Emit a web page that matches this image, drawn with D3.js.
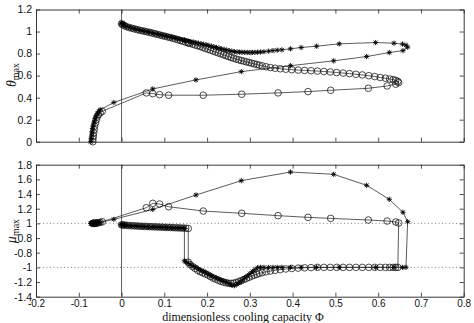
<!DOCTYPE html>
<html>
<head>
<meta charset="utf-8">
<script src="https://cdn.jsdelivr.net/npm/d3@7"></script>
<style>
  body { margin: 0; background: #fff; }
  svg { display: block; }
</style>
</head>
<body>
<svg id="chart" width="474" height="323"></svg>
<script>
// Branch traced with asterisk markers: cooling capacity, peak temperature, peak flux ratio
const starPhi = [
  -0.072,-0.071,-0.070,-0.069,-0.068,-0.066,-0.064,-0.062,-0.059,-0.056,-0.053,-0.050,
  -0.018,0.073,0.174,0.280,0.395,0.496,0.573,0.626,0.658,0.669,
  0.665,0.657,0.637,0.594,0.509,0.456,0.420,0.395,0.375,0.364,0.354,0.344,0.333,0.325,
  0.318,0.312,0.306,0.300,0.294,0.288,0.282,0.276,0.270,0.264,
  0.258,0.252,0.246,0.240,0.234,0.228,0.222,0.216,0.210,0.204,
  0.198,0.192,0.186,0.180,0.174,0.168,0.162,0.156,0.150,
  0.147,0.147,
  0.141,0.135,0.129,0.123,0.117,0.111,0.105,0.099,0.093,0.087,
  0.081,0.075,0.069,0.063,0.057,0.051,0.045,0.039,0.033,0.027,0.021,
  0.015,0.010,0.006,0.003,0.001,-0.001
];
const starTheta = [
  0.000,0.030,0.060,0.090,0.120,0.150,0.180,0.210,0.235,0.258,0.275,0.290,
  0.356,0.479,0.561,0.636,0.690,0.734,0.773,0.809,0.827,0.858,
  0.876,0.886,0.894,0.900,0.888,0.867,0.855,0.843,0.834,0.831,0.827,0.822,0.817,0.814,
  0.812,0.811,0.810,0.810,0.810,0.811,0.812,0.813,0.815,0.817,
  0.821,0.826,0.831,0.837,0.843,0.849,0.855,0.861,0.867,0.873,
  0.879,0.884,0.889,0.894,0.899,0.904,0.909,0.914,0.919,
  0.922,0.922,
  0.927,0.932,0.937,0.943,0.948,0.953,0.958,0.963,0.968,0.974,
  0.979,0.985,0.991,0.996,1.001,1.006,1.011,1.017,1.023,1.029,1.035,
  1.042,1.050,1.058,1.066,1.072,1.077
];
const starMu = [
  1.000,1.000,1.000,1.000,1.000,1.000,1.003,1.005,1.006,1.008,1.010,1.013,
  1.055,1.190,1.387,1.582,1.700,1.669,1.519,1.328,1.151,1.023,
  -1.000,-1.000,-1.000,-1.000,-1.000,-1.000,-1.000,-1.000,-1.000,-1.000,-1.000,-1.000,-1.000,-1.000,
  -1.005,-1.030,-1.055,-1.085,-1.115,-1.145,-1.175,-1.205,-1.230,-1.250,
  -1.245,-1.225,-1.205,-1.190,-1.175,-1.160,-1.145,-1.130,-1.115,-1.095,
  -1.075,-1.055,-1.040,-1.020,-1.000,-0.985,-0.965,-0.945,-0.925,
  -0.910,0.932,
  0.934,0.936,0.937,0.939,0.940,0.942,0.943,0.945,0.946,0.948,
  0.949,0.951,0.952,0.954,0.955,0.957,0.959,0.961,0.963,0.965,0.967,
  0.970,0.973,0.976,0.978,0.980,0.982
];

// Branch traced with open-circle markers
const circlePhi = [
  -0.067,-0.067,-0.066,-0.065,-0.064,-0.063,-0.061,-0.059,-0.057,-0.054,-0.050,-0.045,
  0.058,0.073,0.089,0.110,0.191,0.281,0.366,0.436,0.489,0.577,0.621,0.641,0.648,
  0.646,0.641,0.635,0.627,0.617,0.605,0.592,0.578,0.563,0.548,0.533,0.518,0.503,
  0.488,0.473,0.458,0.443,0.428,0.413,0.398,0.384,0.371,0.359,0.348,0.338,0.329,
  0.322,0.316,0.310,0.304,0.298,0.292,0.286,0.280,0.274,0.268,
  0.262,0.256,0.250,0.244,0.238,0.232,0.226,0.220,0.214,0.208,
  0.202,0.196,0.190,0.184,0.178,0.172,0.166,0.160,
  0.156,0.156,
  0.150,0.144,0.138,0.132,0.126,0.120,0.114,0.108,0.102,0.096,
  0.090,0.084,0.078,0.072,0.066,0.060,0.054,0.048,0.042,0.036,
  0.030,0.024,0.018,0.012,0.007,0.003,0.000
];
const circleTheta = [
  0.000,0.025,0.050,0.080,0.110,0.140,0.170,0.200,0.225,0.245,0.262,0.276,
  0.443,0.436,0.427,0.422,0.422,0.431,0.443,0.455,0.467,0.485,0.506,0.522,0.536,
  0.548,0.557,0.563,0.569,0.576,0.583,0.591,0.599,0.606,0.612,0.618,0.623,0.628,
  0.633,0.637,0.641,0.644,0.647,0.650,0.654,0.658,0.662,0.667,0.673,0.680,0.688,
  0.695,0.701,0.707,0.713,0.719,0.725,0.731,0.737,0.743,0.750,
  0.757,0.765,0.773,0.781,0.790,0.798,0.806,0.814,0.823,0.831,
  0.839,0.847,0.856,0.864,0.871,0.878,0.885,0.892,
  0.897,0.898,
  0.904,0.911,0.918,0.925,0.932,0.939,0.945,0.951,0.957,0.962,
  0.968,0.974,0.980,0.986,0.992,0.997,1.002,1.007,1.012,1.018,
  1.024,1.030,1.036,1.044,1.053,1.062,1.070
];
const circleMu = [
  1.000,1.000,1.000,1.000,1.000,1.000,1.002,1.004,1.006,1.009,1.014,1.022,
  1.214,1.273,1.264,1.227,1.168,1.137,1.105,1.082,1.068,1.046,1.032,1.019,1.005,
  -1.000,-1.000,-1.000,-1.000,-1.000,-1.000,-1.000,-1.000,-1.000,-1.000,-1.000,-1.000,-1.000,
  -1.000,-1.000,-1.000,-1.003,-1.006,-1.010,-1.015,-1.022,-1.030,-1.040,-1.050,-1.060,-1.072,
  -1.083,-1.095,-1.107,-1.120,-1.135,-1.150,-1.165,-1.180,-1.195,-1.207,
  -1.215,-1.218,-1.216,-1.210,-1.200,-1.190,-1.175,-1.160,-1.145,-1.125,
  -1.105,-1.090,-1.075,-1.060,-1.040,-1.015,-0.990,-0.960,
  -0.930,0.930,
  0.934,0.936,0.937,0.939,0.940,0.942,0.943,0.945,0.946,0.948,
  0.949,0.951,0.952,0.954,0.955,0.957,0.958,0.960,0.962,0.964,
  0.966,0.968,0.970,0.973,0.976,0.978,0.980
];

// Axis ticks
const phiTicks = [-0.2,-0.1,0,0.1,0.2,0.3,0.4,0.5,0.6,0.7,0.8];
const phiTickLabels = ["-0.2","-0.1","0","0.1","0.2","0.3","0.4","0.5","0.6","0.7","0.8"];
const thetaTicks = [0,0.2,0.4,0.6,0.8,1,1.2];
const thetaTickLabels = ["0","0.2","0.4","0.6","0.8","1","1.2"];
// The flux axis is folded: the gap between -0.8 and 0.8 is cut out
const muTicks = [-1.4,-1.2,-1,-0.8,0.8,1,1.2,1.4,1.6,1.8];
const muTickLabels = ["-1.4","-1.2","-1","-0.8","0.8","1","1.2","1.4","1.6","1.8"];
const muGuides = [1,-1];

const svg = d3.select("#chart");
const frameColor = "#222";
const tickFont = "'Liberation Sans', Arial, sans-serif";
const serifFont = "'Liberation Serif', 'DejaVu Serif', serif";

const x = d3.scaleLinear().domain([-0.2, 0.8]).range([36, 463.7]);
const yTop = d3.scaleLinear().domain([0, 1.2]).range([141.7, 9.5]);
// folded coordinate: positive values shift down by 1.4 so 0.8 sits one step above -0.8
const fold = m => (m > 0 ? m - 1.4 : m);
const yBotLin = d3.scaleLinear().domain([-1.4, 0.4]).range([296.7, 164.7]);
const yBot = m => yBotLin(fold(m));

const starData = starPhi.map((p, i) => ({ phi: p, theta: starTheta[i], mu: starMu[i] }));
const circleData = circlePhi.map((p, i) => ({ phi: p, theta: circleTheta[i], mu: circleMu[i] }));

function drawFrame(yScale, tickVals, labels, top, bottom, showX) {
  const g = svg.append("g");
  const style = size => sel => {
    sel.select(".domain").attr("stroke", frameColor).attr("stroke-width", 0.9).attr("fill", "none");
    sel.selectAll(".tick line").attr("stroke", frameColor).attr("stroke-width", 0.8);
    sel.selectAll("text").attr("font-family", tickFont).attr("font-size", size).attr("fill", "#111");
  };
  g.append("g").attr("transform", `translate(0,${bottom})`)
    .call(d3.axisBottom(x).tickValues(phiTicks).tickSizeInner(-4).tickSizeOuter(0).tickPadding(3.5)
      .tickFormat((d, i) => showX ? phiTickLabels[i] : ""))
    .call(style(10));
  g.append("g").attr("transform", `translate(0,${top})`)
    .call(d3.axisTop(x).tickValues(phiTicks).tickSizeInner(-4).tickSizeOuter(0).tickFormat(""))
    .call(style(10));
  g.append("g").attr("transform", `translate(${x.range()[0]},0)`)
    .call(d3.axisLeft(yScale).tickValues(tickVals).tickSizeInner(-4).tickSizeOuter(0).tickPadding(4)
      .tickFormat((d, i) => labels[i]))
    .call(style(10.5));
  g.append("g").attr("transform", `translate(${x.range()[1]},0)`)
    .call(d3.axisRight(yScale).tickValues(tickVals).tickSizeInner(-4).tickSizeOuter(0).tickFormat(""))
    .call(style(10));
}

const starPath = "M-2.6,0H2.6M0,-2.6V2.6M-1.9,-1.9L1.9,1.9M-1.9,1.9L1.9,-1.9";

function drawSeries(yAcc) {
  const line = d3.line().x(d => x(d.phi)).y(yAcc);
  const g = svg.append("g");
  g.append("path").datum(circleData).attr("d", line)
    .attr("fill", "none").attr("stroke", "#333").attr("stroke-width", 0.8);
  g.append("path").datum(starData).attr("d", line)
    .attr("fill", "none").attr("stroke", "#333").attr("stroke-width", 0.8);
  g.selectAll("circle.c").data(circleData).join("circle").attr("class", "c")
    .attr("cx", d => x(d.phi)).attr("cy", yAcc).attr("r", 3.3)
    .attr("fill", "none").attr("stroke", "#111").attr("stroke-width", 0.75);
  g.selectAll("path.s").data(starData).join("path").attr("class", "s")
    .attr("transform", d => `translate(${x(d.phi)},${yAcc(d)})`)
    .attr("d", starPath).attr("fill", "none").attr("stroke", "#000").attr("stroke-width", 0.9);
}

// Top panel: peak temperature
drawFrame(yTop, thetaTicks, thetaTickLabels, 9.5, 141.7, false);
svg.append("line").attr("x1", x(0)).attr("x2", x(0)).attr("y1", 9.5).attr("y2", 141.7)
  .attr("stroke", "#333").attr("stroke-width", 0.8);
drawSeries(d => yTop(d.theta));

// Bottom panel: peak flux ratio
drawFrame(yBotLin, muTicks.map(fold), muTickLabels, 164.7, 296.7, true);
svg.append("line").attr("x1", x(0)).attr("x2", x(0)).attr("y1", 164.7).attr("y2", 296.7)
  .attr("stroke", "#333").attr("stroke-width", 0.8);
svg.selectAll("line.guide").data(muGuides).join("line").attr("class", "guide")
  .attr("x1", x.range()[0]).attr("x2", x.range()[1])
  .attr("y1", d => yBot(d)).attr("y2", d => yBot(d))
  .attr("stroke", "#666").attr("stroke-width", 0.8).attr("stroke-dasharray", "1,2.5");
drawSeries(d => yBot(d.mu));

// Axis titles
function yTitle(cx, cy, sym) {
  const t = svg.append("text").attr("transform", `translate(${cx},${cy}) rotate(-90)`)
    .attr("text-anchor", "middle").attr("font-family", serifFont).attr("font-size", 14).attr("fill", "#111");
  t.append("tspan").attr("font-style", "italic").text(sym);
  t.append("tspan").attr("font-size", 10).attr("dy", 3).text("max");
}
yTitle(16, 75, "\u03b8");
yTitle(16, 231, "\u03bc");

svg.append("text").attr("x", 243).attr("y", 320.5).attr("text-anchor", "middle")
  .attr("font-family", serifFont).attr("font-size", 12).attr("fill", "#111")
  .text("dimensionless cooling capacity \u03a6");
</script>
</body>
</html>
